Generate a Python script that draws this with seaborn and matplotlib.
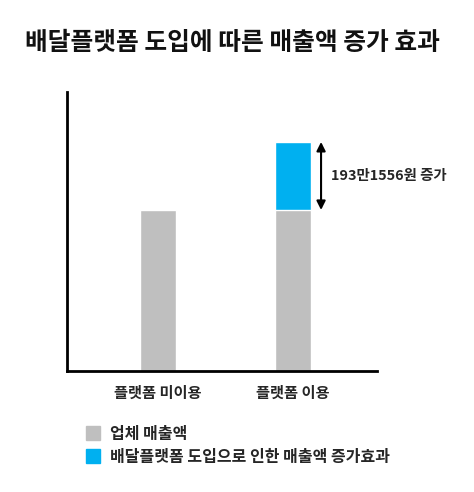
import pandas as pd
import matplotlib.pyplot as plt
from matplotlib.lines import Line2D
import seaborn as sns

# values (won)
categories = ['플랫폼 미이용', '플랫폼 이용']
base_sales = [4570000, 4570000]
platform_gain = [0, 1931556]
legend_labels = ['업체 매출액', '배달플랫폼 도입으로 인한 매출액 증가효과']
gain_label = '193만1556원 증가'
title = '배달플랫폼 도입에 따른 매출액 증가 효과'

GRAY = '#BFBFBF'
BLUE = '#00B0F0'

sns.set_theme(style='white')
plt.rcParams['font.family'] = ['Noto Sans CJK KR', 'DejaVu Sans']
plt.rcParams['font.weight'] = 'bold'

df = pd.DataFrame({'category': categories, 'base': base_sales, 'gain': platform_gain})
df['total'] = df['base'] + df['gain']

fig = plt.figure(figsize=(4.74, 4.92), dpi=100)
ax = fig.add_axes([0.142, 0.246, 0.653, 0.566])

# stacked bars: total in blue, base drawn over it in gray
sns.barplot(data=df, x='category', y='total', color=BLUE, width=0.267,
            saturation=1, ax=ax)
sns.barplot(data=df, x='category', y='base', color=GRAY, width=0.267,
            saturation=1, ax=ax)

ax.set_xlim(-0.672, 1.62)
ax.set_ylim(0, 7905000)
ax.set_xlabel('')
ax.set_ylabel('')
ax.set_yticks([])
ax.tick_params(axis='x', length=0, pad=10, labelsize=11)
for lbl in ax.get_xticklabels():
    lbl.set_fontweight('heavy')
sns.despine(ax=ax, top=True, right=True)
for side in ['left', 'bottom']:
    ax.spines[side].set_color('black')
    ax.spines[side].set_linewidth(2)

# double arrow showing the gain
i = 1
ax.annotate('', xy=(i + 0.207, df['total'][i]), xytext=(i + 0.207, df['base'][i]),
            arrowprops=dict(arrowstyle='<|-|>', color='black', lw=1.5,
                            mutation_scale=13, shrinkA=0, shrinkB=0))
ax.text(i + 0.28, df['base'][i] + df['gain'][i] / 2, gain_label,
        ha='left', va='center', fontsize=10.4, fontweight='heavy', clip_on=False)

fig.text(0.49, 0.913, title, ha='center', va='center', fontsize=17.8,
         fontweight='heavy', color='#111111')

handles = [Line2D([], [], marker='s', ls='', color=GRAY, markersize=9.4),
           Line2D([], [], marker='s', ls='', color=BLUE, markersize=9.4)]
leg = fig.legend(handles, legend_labels, loc='upper left',
                 bbox_to_anchor=(85.7 / 474, 1 - 426 / 492), frameon=False,
                 borderaxespad=0, borderpad=0, handlelength=0.9,
                 handletextpad=0.65, labelspacing=0.42, fontsize=11.5)
for t in leg.get_texts():
    t.set_fontweight('heavy')

fig.savefig('out.png', dpi=100)
